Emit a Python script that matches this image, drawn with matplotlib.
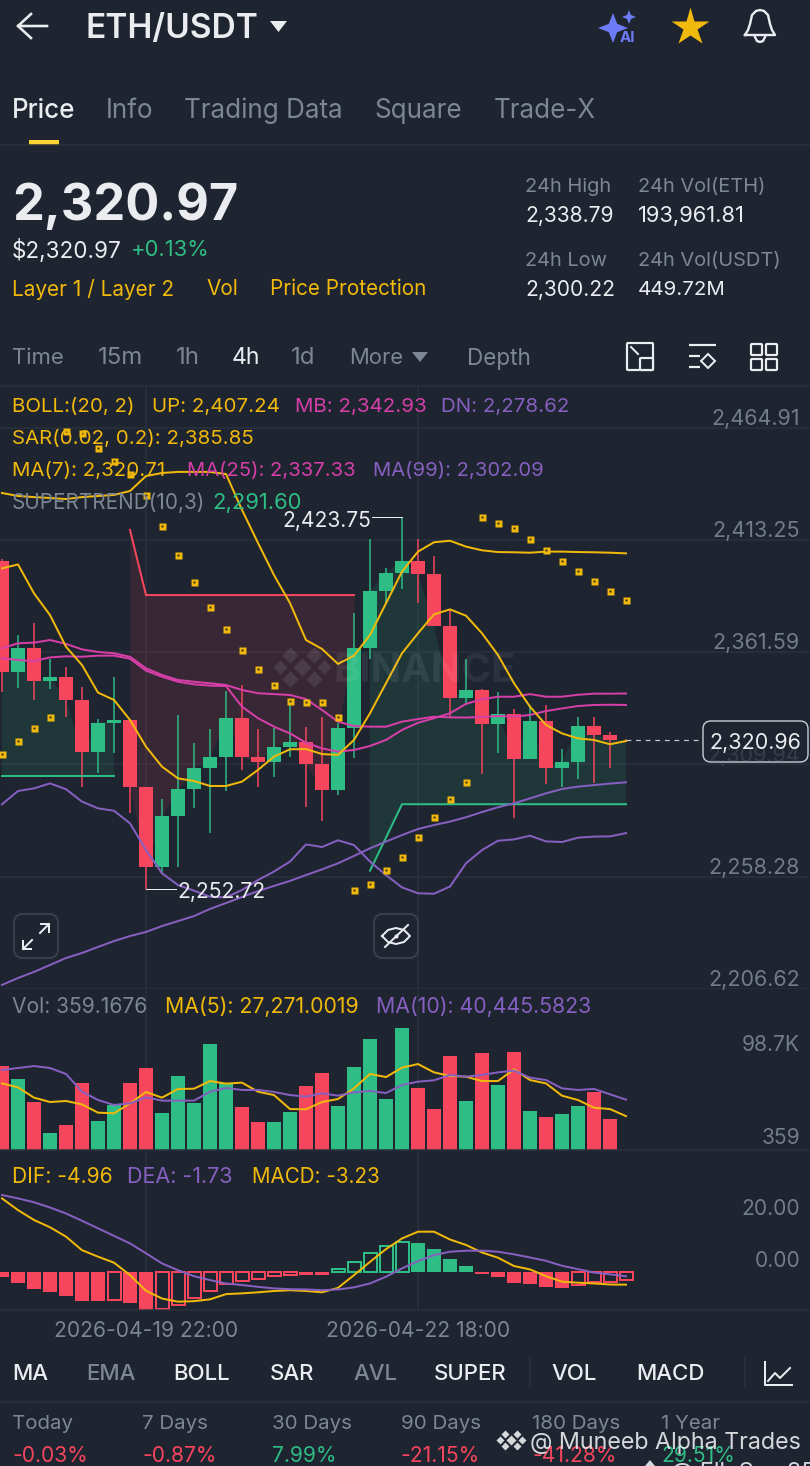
import numpy as np
import matplotlib
matplotlib.use("Agg")
import matplotlib.pyplot as plt
from matplotlib.patches import FancyBboxPatch, Polygon, Rectangle

plt.rcParams['font.family'] = ['Inter', 'DejaVu Sans']

# candles, 4h
opens = [2403.6, 2352.5, 2363.5, 2348.3, 2350.2, 2339.6, 2315.6, 2329.0, 2330.4, 2299.5,
         2262.7, 2286.2, 2298.6, 2308.3, 2313.3, 2331.3, 2313.3, 2311.0, 2318.0, 2320.3,
         2310.1, 2298.2, 2326.7, 2363.5, 2389.8, 2398.1, 2403.6, 2397.6, 2373.7, 2340.5,
         2344.2, 2328.5, 2333.1, 2312.4, 2329.9, 2308.3, 2311.0, 2327.6, 2323.5, 2321.2]
highs = [2404.5, 2369.5, 2375.0, 2358.5, 2354.8, 2345.6, 2330.8, 2350.2, 2330.4, 2299.5,
         2294.0, 2332.7, 2319.8, 2326.2, 2343.7, 2346.5, 2326.2, 2326.7, 2339.6, 2327.2,
         2331.8, 2329.0, 2379.6, 2413.7, 2400.4, 2423.75, 2413.7, 2405.9, 2381.0, 2358.5,
         2344.6, 2343.3, 2335.4, 2337.3, 2337.3, 2317.0, 2331.8, 2331.8, 2324.9, 2321.6]
lows = [2343.3, 2345.1, 2339.6, 2344.6, 2331.8, 2299.5, 2306.0, 2315.2, 2287.6, 2252.72,
        2260.0, 2262.7, 2289.9, 2278.4, 2297.7, 2307.4, 2299.5, 2304.1, 2313.3, 2290.3,
        2283.9, 2295.9, 2312.9, 2358.5, 2384.2, 2390.7, 2384.2, 2373.7, 2331.8, 2337.3,
        2305.5, 2315.2, 2285.3, 2312.4, 2300.9, 2299.5, 2303.2, 2301.4, 2308.3, 2320.3]
closes = [2352.5, 2363.5, 2348.3, 2350.2, 2339.6, 2315.6, 2329.0, 2330.4, 2299.5, 2262.7,
          2286.2, 2298.6, 2308.3, 2313.3, 2331.3, 2313.3, 2311.0, 2318.0, 2320.3, 2310.1,
          2298.2, 2326.7, 2363.5, 2389.8, 2398.1, 2403.6, 2397.6, 2373.7, 2340.5, 2344.2,
          2328.5, 2333.1, 2312.4, 2329.9, 2308.3, 2311.0, 2327.6, 2323.5, 2321.2, 2320.96]

# indicators on price panel
ma7 = [2400.2, 2402.0, 2388.7, 2378.7, 2364.1, 2355.7, 2343.0, 2339.6, 2330.4, 2318.1,
       2308.9, 2303.5, 2302.3, 2300.0, 2300.0, 2302.0, 2307.4, 2313.5, 2316.9, 2317.0,
       2314.7, 2314.3, 2321.2, 2333.5, 2347.3, 2361.1, 2370.3, 2379.0, 2381.3, 2378.4,
       2370.3, 2360.3, 2347.3, 2336.5, 2328.1, 2324.2, 2321.9, 2321.2, 2319.2, 2320.7]
ma25 = [2363.4, 2365.7, 2366.0, 2367.2, 2365.4, 2362.9, 2361.7, 2361.1, 2359.5, 2354.2,
        2351.1, 2348.8, 2348.0, 2347.3, 2346.5, 2344.2, 2342.7, 2342.3, 2341.9, 2340.0,
        2335.0, 2329.6, 2327.6, 2327.3, 2327.3, 2329.6, 2330.8, 2331.9, 2331.6, 2331.5,
        2331.8, 2332.2, 2331.9, 2332.7, 2334.5, 2335.7, 2336.8, 2337.3, 2337.4, 2337.3]
ma99 = [2208.4, 2211.6, 2214.4, 2217.6, 2220.8, 2223.1, 2225.9, 2228.6, 2230.9, 2232.8,
        2235.5, 2237.8, 2240.1, 2243.4, 2246.1, 2248.9, 2251.6, 2254.0, 2256.3, 2259.0,
        2261.6, 2264.4, 2267.8, 2271.3, 2274.4, 2277.4, 2280.2, 2282.0, 2283.6, 2285.6,
        2288.0, 2290.2, 2292.0, 2294.3, 2296.6, 2298.6, 2299.7, 2300.4, 2301.1, 2301.7]
boll_up = [2434.9, 2433.5, 2433.0, 2432.6, 2432.1, 2433.0, 2433.5, 2434.0, 2435.8, 2442.7,
           2444.1, 2444.6, 2444.6, 2444.6, 2443.6, 2427.1, 2411.9, 2397.1, 2384.2, 2367.2,
           2363.1, 2356.2, 2360.0, 2369.5, 2384.1, 2398.7, 2407.9, 2412.2, 2412.9, 2410.2,
           2408.5, 2407.7, 2407.6, 2407.4, 2407.9, 2407.9, 2407.7, 2407.6, 2407.4, 2407.1]
boll_mb = [2358.8, 2358.0, 2357.5, 2359.2, 2359.7, 2359.5, 2360.0, 2360.0, 2358.6, 2353.1,
           2350.3, 2348.0, 2346.8, 2346.2, 2346.0, 2336.5, 2331.2, 2327.3, 2324.2, 2319.9,
           2317.3, 2315.8, 2316.6, 2318.4, 2321.2, 2325.8, 2329.1, 2331.2, 2333.5, 2337.8,
           2339.9, 2341.1, 2341.1, 2342.3, 2341.1, 2341.1, 2342.0, 2342.5, 2342.5, 2342.6]
boll_dn = [2291.6, 2297.7, 2298.9, 2301.2, 2298.5, 2292.8, 2289.7, 2288.6, 2282.8, 2270.5,
           2259.8, 2254.4, 2251.8, 2249.0, 2248.7, 2252.1, 2256.7, 2260.6, 2265.2, 2273.1,
           2271.9, 2275.0, 2272.8, 2265.2, 2259.0, 2253.3, 2250.6, 2250.4, 2253.7, 2264.4,
           2270.5, 2274.8, 2275.4, 2277.1, 2274.5, 2274.2, 2276.2, 2276.7, 2276.8, 2278.3]
sar = [2314.7, 2320.7, 2326.7, 2331.8, 2463.4, 2462.5, 2455.6, 2449.6, 2443.6, 2434.0,
       2419.7, 2406.3, 2393.9, 2382.4, 2372.3, 2362.6, 2353.9, 2346.5, 2339.1, 2338.7,
       2338.7, 2331.8, 2252.1, 2254.9, 2261.3, 2267.3, 2276.5, 2285.7, 2294.0, 2301.8,
       2423.8, 2421.1, 2418.8, 2413.7, 2408.6, 2403.6, 2399.0, 2394.4, 2389.8, 2385.85]
nan = float('nan')
st_up = [2304.6] * 8 + [nan] * 15 + [2261.0, 2276.2] + [2291.6] * 15
st_dn = [nan] * 8 + [2417.9] + [2387.9] * 14 + [nan] * 17

# volume panel, in thousands
volumes = [67.7, 57.2, 38.7, 13.7, 20.2, 54.0, 23.4, 36.3, 54.0, 66.1,
           29.8, 59.6, 37.9, 85.4, 54.0, 34.7, 22.6, 22.6, 30.6, 51.6,
           62.1, 35.5, 66.9, 89.5, 41.1, 98.7, 50.0, 33.0, 75.8, 39.5,
           78.2, 52.4, 79.0, 31.4, 26.6, 29.0, 35.5, 46.7, 25.0, 0.359]
vol_ma5 = [53.7, 50.5, 42.2, 38.7, 39.5, 36.8, 30.1, 29.6, 37.6, 46.8,
           42.2, 49.2, 49.4, 55.6, 53.5, 54.3, 47.0, 44.3, 33.0, 32.8,
           38.7, 41.1, 49.7, 61.3, 58.8, 66.4, 69.3, 62.6, 59.7, 59.1,
           55.6, 55.6, 65.0, 56.4, 53.7, 43.8, 40.3, 34.1, 33.0, 27.3]
vol_ma10 = [64.5, 66.1, 67.7, 66.1, 61.3, 47.0, 40.3, 36.3, 37.6, 42.5,
            39.8, 39.8, 39.8, 47.0, 50.0, 48.4, 48.4, 46.8, 44.3, 43.0,
            45.7, 43.8, 46.5, 47.6, 45.9, 52.4, 55.1, 56.2, 60.5, 59.1,
            60.5, 62.6, 64.0, 58.3, 56.4, 49.7, 48.4, 49.2, 44.9, 40.6]

# macd panel
dif = [28.2, 23.7, 19.9, 17.1, 13.5, 8.3, 5.8, 3.5, -1.3, -7.3,
       -10.3, -11.5, -11.3, -10.6, -8.6, -8.3, -7.9, -7.4, -7.1, -7.4,
       -7.9, -6.2, -1.3, 3.8, 8.7, 12.8, 15.4, 15.4, 12.4, 10.3,
       7.4, 5.4, 2.2, 0.9, -1.7, -3.8, -4.2, -4.5, -4.9, -4.96]
dea = [29.5, 28.2, 26.7, 24.7, 22.4, 19.6, 16.7, 13.8, 10.9, 7.1,
       3.2, 0.6, -1.7, -3.2, -4.5, -5.1, -5.8, -6.4, -6.7, -6.8,
       -7.1, -6.8, -6.0, -4.5, -1.9, 1.3, 4.1, 6.4, 7.7, 8.1,
       8.1, 7.7, 6.7, 5.5, 4.2, 2.3, 1.0, -0.3, -1.0, -1.73]
macd = [-1.9, -4.2, -6.5, -7.9, -9.2, -11.3, -11.3, -10.9, -11.9, -14.9,
        -14.2, -12.7, -10.0, -7.4, -4.8, -3.6, -2.6, -1.7, -1.3, -1.3,
        -1.3, 0.9, 3.8, 7.3, 9.9, 11.3, 11.0, 8.8, 4.9, 2.2,
        -0.9, -2.2, -4.5, -4.6, -5.9, -6.1, -5.2, -4.1, -4.0, -3.23]

price_ticks = [2464.91, 2413.25, 2361.59, 2309.93, 2258.28, 2206.62]
price_labels = ['2,464.91', '2,413.25', '2,361.59', '2,309.94', '2,258.28', '2,206.62']
date_idx = [9, 26]
date_labels = ['2026-04-19 22:00', '2026-04-22 18:00']

BG = '#1e2430'
GRID = '#2b313c'
GREEN = '#2ebd85'
RED = '#f6465d'
YELLOW = '#f0b90b'
PINK = '#d63fa8'
PURPLE = '#8660c0'
GREY = '#7d8695'
AXIS_GREY = '#737c8b'
WHITE = '#eaecef'
PX = 0.72  # 1 px in points at dpi 100

W, H = 810, 1466
fig = plt.figure(figsize=(W / 100, H / 100), dpi=100, facecolor=BG)


def panel(top, bottom):
    ax = fig.add_axes([0, 1 - bottom / H, 1, (bottom - top) / H])
    ax.set_facecolor('none')
    ax.set_xlim(-2 / 16, (W - 2) / 16)
    ax.set_xticks([])
    ax.set_yticks([])
    for s in ax.spines.values():
        s.set_visible(False)
    for i in date_idx:
        ax.axvline(i, color=GRID, lw=1.5 * PX, zorder=0)
    return ax


x = np.arange(len(closes))
o, c, hi, lo = map(np.array, (opens, closes, highs, lows))
up = c >= o
colors = [GREEN if u else RED for u in up]

# ---- price panel
ax = panel(386, 989)
ax.set_ylim(2206.53, 2484.15)
for p in price_ticks:
    ax.axhline(p, color=GRID, lw=1.5 * PX, zorder=0)

st_u = np.array(st_up)
st_d = np.array(st_dn)
ax.fill_between(x, st_u, c, where=~np.isnan(st_u), color=GREEN, alpha=0.13, lw=0, zorder=1)
ax.fill_between(x, st_d, c, where=~np.isnan(st_d), color=RED, alpha=0.12, lw=0, zorder=1)
ax.plot(x, st_u, color=GREEN, lw=2 * PX, zorder=4)
ax.plot(x, st_d, color=RED, lw=2 * PX, zorder=4)

ax.vlines(x, lo, hi, colors=colors, lw=2 * PX, alpha=0.75, zorder=2)
ax.bar(x, np.abs(c - o), bottom=np.minimum(o, c), width=14 / 16, color=colors, lw=0, zorder=3)

ax.plot(x, ma99, color=PURPLE, lw=2 * PX, zorder=5)
ax.plot(x, boll_dn, color=PURPLE, lw=2 * PX, zorder=5)
ax.plot(x, ma25, color=PINK, lw=2 * PX, zorder=5)
ax.plot(x, boll_mb, color=PINK, lw=2 * PX, zorder=5)
ax.plot(x, boll_up, color=YELLOW, lw=2 * PX, zorder=5)
ax.plot(x, ma7, color=YELLOW, lw=2 * PX, zorder=5)
ax.plot(x, sar, ls='', marker='s', ms=7 * PX, mfc=YELLOW, mec='none', zorder=6)
ax.plot(x, sar, ls='', marker='s', ms=2.4 * PX, mfc='#3a3020', mec='none', zorder=7)

# last price dashes
ax.plot([x[-1], (703 - 2) / 16], [closes[-1], closes[-1]], color='#c8ccd4', lw=1.2 * PX,
        dashes=(4, 4), zorder=2)

# high / low markers
ax.plot([x[25], x[25] - 30 / 16], [highs[25], highs[25]], color=WHITE, lw=1 * PX, zorder=6)
ax.plot([x[9], x[9] + 30 / 16], [lows[9], lows[9]], color=WHITE, lw=1 * PX, zorder=6)

# ---- volume panel
ax2 = panel(990, 1150)
ax2.set_ylim(0, 129)
ax2.bar(x, volumes, width=14 / 16, color=colors, lw=0, zorder=2)
ax2.plot(x, vol_ma5, color=YELLOW, lw=2 * PX, zorder=3)
ax2.plot(x, vol_ma10, color=PURPLE, lw=2 * PX, zorder=3)

# ---- macd panel
ax3 = panel(1150, 1310)
ax3.set_ylim(-14.7, 46.8)
m = np.array(macd)
hollow = np.r_[False, m[1:] > m[:-1]]
bar_colors = [GREEN if v > 0 else RED for v in m]
for xi, v, col, h in zip(x, m, bar_colors, hollow):
    if h:
        ax3.bar(xi, v, width=13 / 16, facecolor='none', edgecolor=col, lw=2 * PX, zorder=2)
    else:
        ax3.bar(xi, v, width=14 / 16, color=col, lw=0, zorder=2)
ax3.plot(x, dif, color=YELLOW, lw=2 * PX, zorder=3)
ax3.plot(x, dea, color=PURPLE, lw=2 * PX, zorder=3)

# ---- overlay in pixel coords: all the app chrome and text
ui = fig.add_axes([0, 0, 1, 1], zorder=10)
ui.set_xlim(0, W)
ui.set_ylim(H, 0)
ui.axis('off')


def t(px, py, s, color=GREY, size=21, weight='normal', ha='left', **kw):
    return ui.text(px, py, s, color=color, fontsize=size * PX, fontweight=weight, ha=ha,
                   va='center_baseline', **kw)


def hline(y, x0=0, x1=W, color=GRID, lw=1.5):
    ui.plot([x0, x1], [y, y], color=color, lw=lw * PX, solid_capstyle='butt')


def sparkle(cx, cy, r, col):
    k = r * 0.28
    ui.add_patch(Polygon([(cx, cy - r), (cx + k, cy - k), (cx + r, cy), (cx + k, cy + k),
                          (cx, cy + r), (cx - k, cy + k), (cx - r, cy), (cx - k, cy - k)],
                         closed=True, fc=col, ec='none'))


def logo(cx, cy, s, col, alpha=1.0):
    # binance mark built from diamonds
    for dx, dy, r in [(0, 0, 1), (-1, 0, .8), (1, 0, .8), (-.55, -.55, .9), (.55, -.55, .9),
                      (-.55, .55, .9), (.55, .55, .9)]:
        ui.plot(cx + dx * s * 2, cy + dy * s * 2, marker='D', ms=s * r * PX * 1.2, mfc=col, mec='none', alpha=alpha)


def rbox(x0, y0, x1, y1, col, lw=2, fc='none', r=3):
    ui.add_patch(FancyBboxPatch((x0 + r, y0 + r), x1 - x0 - 2 * r, y1 - y0 - 2 * r,
                                boxstyle='round,pad=%d' % r, fc=fc, ec=col, lw=lw * PX))


hline(145)
hline(386)
hline(1402)

# header
ui.plot([47, 18, 31], [26, 26, 14], color=WHITE, lw=2.6 * PX)
ui.plot([18, 31], [26, 38], color=WHITE, lw=2.6 * PX)
t(85, 26, 'ETH/USDT', WHITE, 33.5, 'semibold')
ui.add_patch(Polygon([(270, 21), (287, 21), (278.5, 32)], fc=WHITE, ec='none'))
sparkle(613, 28, 15, '#6d7cf6')
sparkle(629, 17, 7, '#6d7cf6')
t(620, 36, 'AI', '#6d7cf6', 15, 'bold')
ui.plot(690, 27, marker='*', ms=40 * PX, mfc=YELLOW, mec='none')
bell_x = [745, 748, 750, 752, 756, 760, 764, 768, 770, 772, 775, 745]
bell_y = [35, 30, 24, 15, 11, 10, 11, 15, 24, 30, 35, 35]
ui.plot(bell_x, bell_y, color=WHITE, lw=2.4 * PX)
ui.plot([755, 757, 760, 763, 765], [37, 41, 42, 41, 37], color=WHITE, lw=2.4 * PX)

for px, s, col, w in [(12, 'Price', WHITE, 'medium'), (106, 'Info', GREY, 'normal'),
                      (184, 'Trading Data', GREY, 'normal'), (374, 'Square', GREY, 'normal'),
                      (494, 'Trade-X', GREY, 'normal')]:
    t(px, 108, s, col, 26, w)
ui.add_patch(Rectangle((29, 140), 30, 5, fc='#fcd535', ec='none'))

t(12, 201, '2,320.97', WHITE, 50.5, 'bold')
t(12, 248, '$2,320.97', WHITE, 22.5)
t(131, 248, '+0.13%', GREEN, 22)
t(12, 287, 'Layer 1 / Layer 2', YELLOW, 20.8)
t(206, 287, 'Vol', YELLOW, 20.8)
t(270, 287, 'Price Protection', YELLOW, 20.7)
t(525, 185, '24h High', GREY, 20)
t(525, 214, '2,338.79', WHITE, 21)
t(525, 259, '24h Low', GREY, 20)
t(525, 288, '2,300.22', WHITE, 21)
t(638, 185, '24h Vol(ETH)', GREY, 20)
t(638, 214, '193,961.81', WHITE, 22)
t(638, 259, '24h Vol(USDT)', GREY, 20)
t(638, 288, '449.72M', WHITE, 20.5)

for px, s, col, sz in [(12, 'Time', GREY, 22), (98, '15m', GREY, 24), (176, '1h', GREY, 24),
                       (232, '4h', WHITE, 23), (291, '1d', GREY, 24), (349, 'More', GREY, 22),
                       (467, 'Depth', GREY, 22.5)]:
    t(px, 356, s, col, sz)
ui.add_patch(Polygon([(412, 352), (428, 352), (420, 362)], fc=GREY, ec='none'))
rbox(627, 343, 653, 370, WHITE, 2.2, r=1)
rbox(640, 358, 653, 370, WHITE, 2.2, fc=BG, r=1)
ui.plot([631, 638], [347, 354], color=WHITE, lw=2 * PX)
hline(345, 689, 716, WHITE, 2.2)
hline(356, 689, 700, WHITE, 2.2)
hline(367, 689, 700, WHITE, 2.2)
ui.plot(708, 361, marker='D', ms=10 * PX, mfc='none', mec=WHITE, mew=2 * PX)
for bx, by in [(751, 344), (766, 344), (751, 359), (766, 359)]:
    rbox(bx, by, bx + 11, by + 11, WHITE, 2.2, r=1)

# indicator legends
t(12, 405, 'BOLL:(20, 2)', YELLOW, 20.5)
t(152, 405, 'UP: 2,407.24', YELLOW, 20.5)
t(295, 405, 'MB: 2,342.93', PINK, 20.5)
t(441, 405, 'DN: 2,278.62', PURPLE, 20.5)
t(12, 437, 'SAR(0.02, 0.2): 2,385.85', YELLOW, 20.5)
t(12, 469, 'MA(7): 2,320.71', YELLOW, 20.5)
t(187, 469, 'MA(25): 2,337.33', PINK, 20.2)
t(373, 469, 'MA(99): 2,302.09', PURPLE, 20.2)
t(12, 501, 'SUPERTREND(10,3)', GREY, 20.7)
t(212, 501, '2,291.60', GREEN, 22)

rbox(703, 721, 808, 762, '#c8ccd4', 1.4, fc=BG, r=8)
for p, lab in zip(price_ticks, price_labels):
    py = 540 + (2413.25 - p) / 0.4604 - 11
    if lab == '2,309.94':
        t(800, py + 1, lab, GREY, 21.5, ha='right', alpha=0.25)
    else:
        t(800, py, lab, AXIS_GREY, 21.5, ha='right')
t(371, 519, '2,423.75', WHITE, 21, ha='right')
t(177, 890, '2,252.72', WHITE, 21)
t(755.5, 741, '2,320.96', WHITE, 21.5, ha='center')

# watermark
logo(302, 667, 11, '#ffffff', 0.09)
t(333, 667, 'BINANCE', '#ffffff', 40, 'bold', alpha=0.07)

# panel buttons
rbox(14, 914, 58, 958, '#3a404b', 2, r=9)
ui.plot([40, 49], [933, 924], color=WHITE, lw=2 * PX)
ui.plot([41, 49, 49], [924, 924, 932], color=WHITE, lw=2 * PX)
ui.plot([23, 32], [949, 940], color=WHITE, lw=2 * PX)
ui.plot([23, 23, 31], [941, 949, 949], color=WHITE, lw=2 * PX)
rbox(374, 914, 418, 958, '#3a404b', 2, r=9)
ui.plot([382, 388, 396, 404, 410, 404, 396, 388, 382],
        [936, 930, 928, 930, 936, 942, 944, 942, 936], color=WHITE, lw=2 * PX)
ui.plot([385, 408], [947, 925], color=WHITE, lw=2 * PX)
ui.plot(396, 936, marker='o', ms=4 * PX, mfc=WHITE, mec='none')

# volume and macd labels
t(12, 1005, 'Vol: 359.1676', GREY, 21)
t(165, 1005, 'MA(5): 27,271.0019', YELLOW, 21.3)
t(376, 1005, 'MA(10): 40,445.5823', PURPLE, 21.3)
t(800, 1043, '98.7K', AXIS_GREY, 21, ha='right')
t(800, 1136, '359', AXIS_GREY, 21, ha='right')
hline(1150)
t(12, 1175, 'DIF: -4.96', YELLOW, 21)
t(127, 1175, 'DEA: -1.73', PURPLE, 21.5)
t(252, 1175, 'MACD: -3.23', YELLOW, 20.6)
t(800, 1207, '20.00', AXIS_GREY, 21, ha='right')
t(800, 1259, '0.00', AXIS_GREY, 21, ha='right')
hline(1310)
for i, lab in zip(date_idx, date_labels):
    t(2 + 16 * i, 1329, lab, GREY, 21, ha='center')

# indicator selector
for px, s, col in [(12, 'MA', WHITE), (86, 'EMA', GREY), (173, 'BOLL', WHITE), (270, 'SAR', WHITE),
                   (353, 'AVL', GREY), (434, 'SUPER', WHITE), (551, 'VOL', WHITE), (636, 'MACD', WHITE)]:
    t(px, 1372, s, col, 22.3, 'medium')
ui.plot([530, 530], [1357, 1387], color=GRID, lw=1.5 * PX)
ui.plot([745, 745], [1357, 1387], color=GRID, lw=1.5 * PX)
ui.plot([765, 765, 792], [1362, 1385, 1385], color=WHITE, lw=2 * PX)
ui.plot([768, 775, 780, 790], [1381, 1373, 1378, 1368], color=WHITE, lw=2 * PX)

# period returns
periods = ['Today', '7 Days', '30 Days', '90 Days', '180 Days', '1 Year']
returns = ['-0.03%', '-0.87%', '7.99%', '-21.15%', '-41.28%', '29.51%']
period_x = [12, 142, 272, 401, 532, 661]
for px, s, r in zip(period_x, periods, returns):
    t(px, 1422, s, GREY, 20.5)
    t(px, 1454, r, GREEN if not r.startswith('-') else RED, 21)

# screenshot watermark
logo(511, 1440, 5.5, WHITE, 0.9)
t(530, 1440, '@ Muneeb Alpha Trades', WHITE, 23.3, alpha=0.9)
ui.add_patch(Polygon([(640, 1472), (650, 1460), (660, 1472)], fc=WHITE, ec='none', alpha=0.9))
t(671, 1470, '@ Elk Sa.. 85', WHITE, 23.3, alpha=0.9)

fig.savefig('out.png', dpi=100, facecolor=BG)
